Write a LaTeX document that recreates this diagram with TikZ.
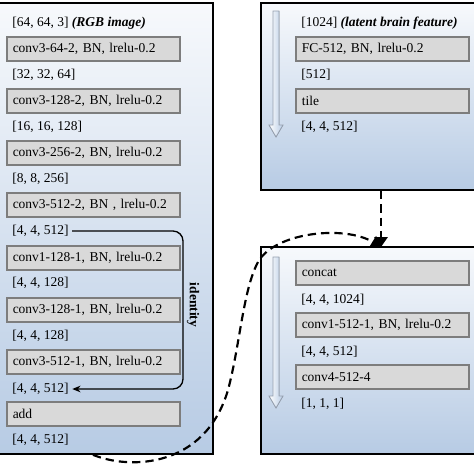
\documentclass[tikz,border=0pt]{standalone}
\usepackage{fontspec}
\setmainfont{Liberation Serif}
\usetikzlibrary{arrows.meta}

\definecolor{boxgray}{RGB}{217,217,217}
\definecolor{boxedge}{RGB}{125,125,125}
\definecolor{paneltop}{RGB}{247,249,252}
\definecolor{panelbot}{RGB}{183,203,228}
\definecolor{arrowedge}{RGB}{150,160,175}

\tikzset{
  panel/.style={draw=black, line width=1pt, top color=paneltop, bottom color=panelbot, inner sep=0pt},
  layerbox/.style={draw=boxedge, line width=0.9pt, fill=boxgray, anchor=north west,
    minimum height=14.4pt, inner xsep=3.6pt, inner ysep=0pt, text width=96.6pt, align=left},
  shapetext/.style={anchor=west, inner sep=0pt},
  identlink/.style={line width=0.8pt, rounded corners=6pt, -{Stealth[length=5pt,width=4pt]}},
  dashlink/.style={line width=1.3pt, dash pattern=on 5pt off 3pt, -{Triangle[length=6pt,width=8pt]}},
  flowarrow/.style={draw=arrowedge, line width=0.5pt, left color=white, right color=panelbot}
}

\begin{document}
\begin{tikzpicture}[x=0.6pt, y=-0.6pt, font=\fontsize{8.1}{9.5}\selectfont]
  \useasboundingbox (0,0) rectangle (474,474);
  \clip (0,0) rectangle (474,474);

  % Panels
  \node[panel, minimum width=130.8pt, minimum height=270.6pt] (imgpanel) at (104,228.5) {};
  \node[panel, minimum width=131.4pt, minimum height=112.2pt] (latentpanel) at (370.5,96.5) {};
  \node[panel, minimum width=131.4pt, minimum height=124.2pt] (dpanel) at (370.5,350.5) {};

  % Image branch
  \node[shapetext] (s1) at (12,23) {[64, 64, 3] \textbf{\textit{(RGB image)}}};
  \node[layerbox] (b1) at (6,36) {conv3-64-2, BN, lrelu-0.2};
  \node[shapetext] (s2) at (12,75) {[32, 32, 64]};
  \node[layerbox] (b2) at (6,88) {conv3-128-2, BN, lrelu-0.2};
  \node[shapetext] (s3) at (12,127) {[16, 16, 128]};
  \node[layerbox] (b3) at (6,140) {conv3-256-2, BN, lrelu-0.2};
  \node[shapetext] (s4) at (12,179) {[8, 8, 256]};
  \node[layerbox] (b4) at (6,192) {conv3-512-2, BN , lrelu-0.2};
  \node[shapetext] (s5) at (12,231) {[4, 4, 512]};
  \node[layerbox] (b5) at (6,245) {conv1-128-1, BN, lrelu-0.2};
  \node[shapetext] (s6) at (12,283) {[4, 4, 128]};
  \node[layerbox] (b6) at (6,297) {conv3-128-1, BN, lrelu-0.2};
  \node[shapetext] (s7) at (12,336) {[4, 4, 128]};
  \node[layerbox] (b7) at (6,349) {conv3-512-1, BN, lrelu-0.2};
  \node[shapetext] (s8) at (12,389) {[4, 4, 512]};
  \node[layerbox] (b8) at (6,401) {add};
  \node[shapetext] (s9) at (12,440) {[4, 4, 512]};

  % Identity shortcut
  \coordinate (idcol) at (183,310);
  \draw[identlink] ([xshift=2pt]s5.east) -| (idcol) |- ([xshift=2pt]s8.east);
  \node[rotate=-90, font=\fontsize{8.1}{9.5}\selectfont\bfseries] (idlabel) at (193,305) {identity};

  % Latent branch
  \fill[flowarrow] (273,11) -- (279,11) -- (279,125) -- (283,125) -- (276,137) -- (269,125) -- (273,125) -- cycle;
  \node[shapetext] (l1) at (301,23) {[1024] \textbf{\textit{(latent brain feature)}}};
  \node[layerbox] (fc) at (295,36) {FC-512, BN, lrelu-0.2};
  \node[shapetext] (l2) at (301,75) {[512]};
  \node[layerbox] (tile) at (295,88) {tile};
  \node[shapetext] (l3) at (301,127) {[4, 4, 512]};

  % Joint branch
  \fill[flowarrow] (273,257) -- (279,257) -- (279,396) -- (283,396) -- (276,408) -- (269,396) -- (273,396) -- cycle;
  \node[layerbox] (concat) at (295,260) {concat};
  \node[shapetext] (d1) at (301,300) {[4, 4, 1024]};
  \node[layerbox] (c1) at (295,312) {conv1-512-1, BN, lrelu-0.2};
  \node[shapetext] (d2) at (301,352) {[4, 4, 512]};
  \node[layerbox] (c2) at (295,364) {conv4-512-4};
  \node[shapetext] (d3) at (301,404) {[1, 1, 1]};

  % Dashed links into the joint panel
  \coordinate (join) at (381,247);
  \draw[dashlink] (latentpanel.south -| join) -- (join);
  \draw[dashlink] (imgpanel.south -| 93,0) .. controls (130,470) and (205,468) .. (228,390)
    .. controls (240,345) and (243,290) .. (258,262)
    .. controls (275,232) and (345,225) .. (join);
\end{tikzpicture}
\end{document}
